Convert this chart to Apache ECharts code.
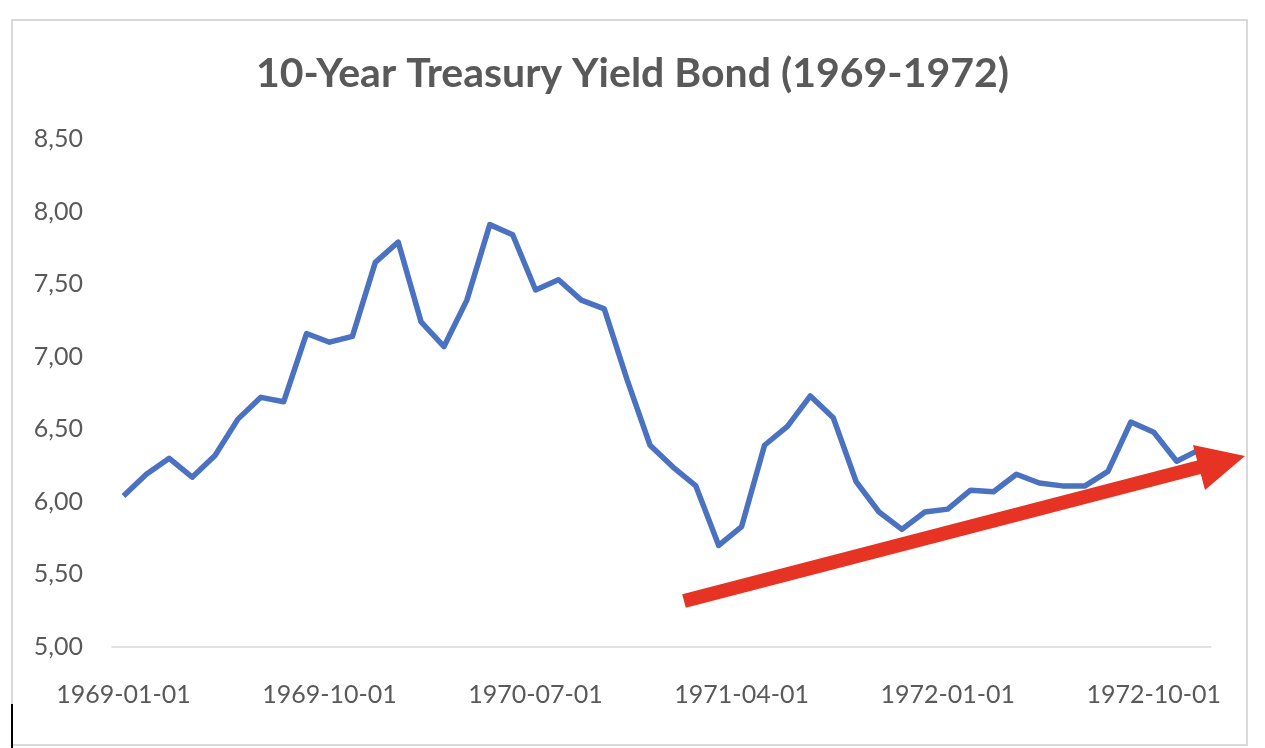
<!DOCTYPE html>
<html>
<head>
<meta charset="utf-8">
<style>
  html, body { margin: 0; padding: 0; background: #fff; }
  #chart { width: 1265px; height: 748px; }
</style>
<script src="https://cdn.jsdelivr.net/npm/echarts@6/dist/echarts.min.js"></script>
</head>
<body>
<div id="chart"></div>
<script>
// monthly dates 1969-01 .. 1972-12
const months = [
  "1969-01-01", "1969-02-01", "1969-03-01", "1969-04-01", "1969-05-01", "1969-06-01",
  "1969-07-01", "1969-08-01", "1969-09-01", "1969-10-01", "1969-11-01", "1969-12-01",
  "1970-01-01", "1970-02-01", "1970-03-01", "1970-04-01", "1970-05-01", "1970-06-01",
  "1970-07-01", "1970-08-01", "1970-09-01", "1970-10-01", "1970-11-01", "1970-12-01",
  "1971-01-01", "1971-02-01", "1971-03-01", "1971-04-01", "1971-05-01", "1971-06-01",
  "1971-07-01", "1971-08-01", "1971-09-01", "1971-10-01", "1971-11-01", "1971-12-01",
  "1972-01-01", "1972-02-01", "1972-03-01", "1972-04-01", "1972-05-01", "1972-06-01",
  "1972-07-01", "1972-08-01", "1972-09-01", "1972-10-01", "1972-11-01", "1972-12-01",
];

const yields = [
  6.04, 6.19, 6.30, 6.17, 6.32, 6.57, 6.72, 6.69, 7.16, 7.10, 7.14, 7.65,
  7.79, 7.24, 7.07, 7.39, 7.91, 7.84, 7.46, 7.53, 7.39, 7.33, 6.84, 6.39,
  6.24, 6.11, 5.70, 5.83, 6.39, 6.52, 6.73, 6.58, 6.14, 5.93, 5.81, 5.93,
  5.95, 6.08, 6.07, 6.19, 6.13, 6.11, 6.11, 6.21, 6.55, 6.48, 6.28, 6.36,
];

const yMin = 5;
const yMax = 8.5;
const yStep = 0.5;

const textColor = "#595959";
const frameColor = "#d9d9d9";
const fontFamily = "Lato, 'Noto Sans', sans-serif";

const chart = echarts.init(document.getElementById("chart"));

const option = {
  animation: false,
  backgroundColor: "#fff",
  title: {
    text: "10-Year Treasury Yield Bond (1969-1972)",
    left: "center",
    top: 48,
    textStyle: {
      color: textColor,
      fontFamily: fontFamily,
      fontWeight: "bold",
      fontSize: 41,
    },
  },
  grid: {
    left: 112,
    right: 54,
    top: 139,
    bottom: 101,
    containLabel: false,
  },
  xAxis: {
    type: "category",
    data: months,
    boundaryGap: true,
    axisLine: {
      lineStyle: { color: frameColor, width: 1.5 },
    },
    axisTick: {
      interval: 8,
      length: 10,
      lineStyle: { color: frameColor, width: 1.5 },
    },
    axisLabel: {
      interval: 8,
      margin: 35,
      color: textColor,
      fontFamily: fontFamily,
      fontSize: 25,
    },
    splitLine: { show: false },
  },
  yAxis: {
    type: "value",
    min: yMin,
    max: yMax,
    interval: yStep,
    axisLine: { show: false },
    axisTick: { show: false },
    splitLine: { show: false },
    axisLabel: {
      margin: 29,
      color: textColor,
      fontFamily: fontFamily,
      fontSize: 25,
      formatter: (v) => v.toFixed(2).replace(".", ","),
    },
  },
  series: [
    {
      type: "line",
      data: yields,
      showSymbol: false,
      lineStyle: { color: "#4a72c0", width: 5.5, join: "round" },
      itemStyle: { color: "#4a72c0" },
    },
  ],
  graphic: [
    // outer frame
    {
      type: "rect",
      z: 0,
      shape: { x: 12, y: 20, width: 1235, height: 725 },
      style: { fill: "none", stroke: frameColor, lineWidth: 2 },
    },
    // cursor mark at bottom left
    {
      type: "line",
      z: 1,
      shape: { x1: 12, y1: 704, x2: 12, y2: 748 },
      style: { stroke: "#000", lineWidth: 2 },
    },
    // red trend arrow
    {
      type: "line",
      z: 100,
      shape: { x1: 684, y1: 601, x2: 1200, y2: 467 },
      style: { stroke: "#e63323", lineWidth: 14, lineCap: "butt" },
    },
    {
      type: "polygon",
      z: 100,
      shape: { points: [[1193, 445], [1245, 456], [1205, 490]] },
      style: { fill: "#e63323" },
    },
  ],
};

chart.setOption(option);
</script>
</body>
</html>
